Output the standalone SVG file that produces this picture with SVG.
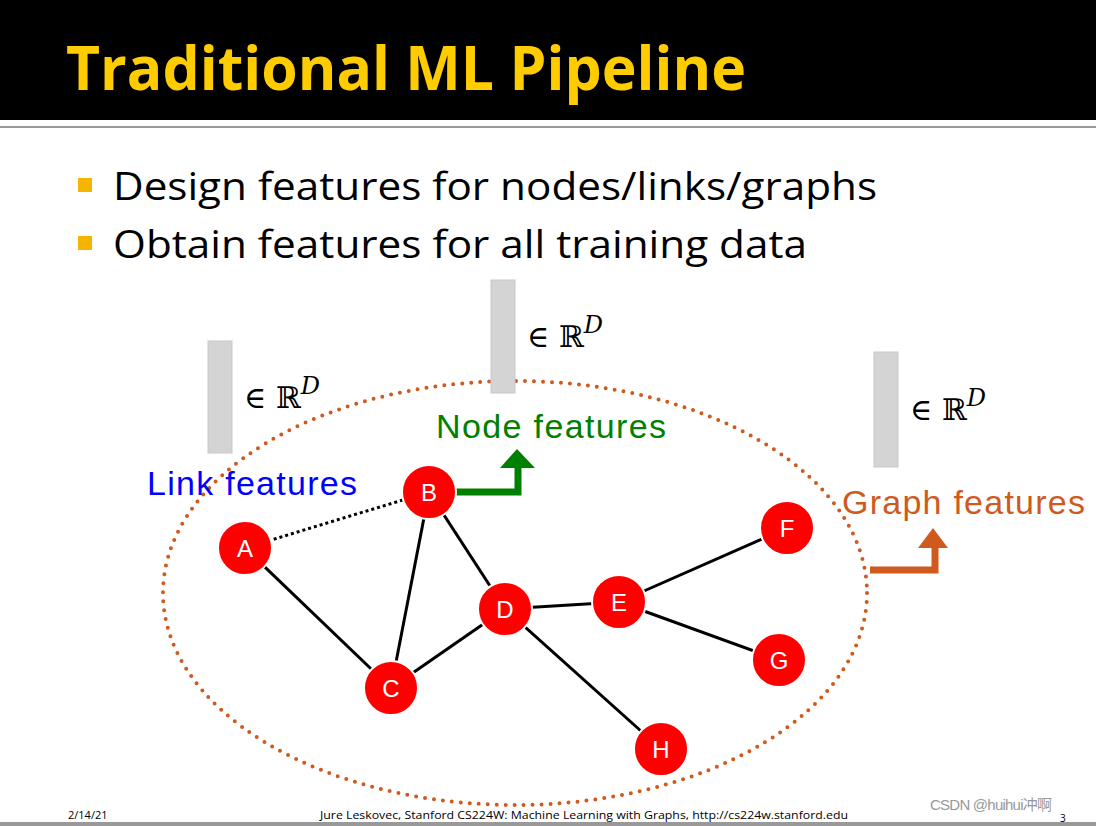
<svg xmlns="http://www.w3.org/2000/svg" width="1096" height="826" viewBox="0 0 1096 826">
<style>
.n circle{fill:#f00;stroke:#fff;stroke-width:2}
.n text{fill:#fff;font:24px "Liberation Sans",sans-serif;text-anchor:middle}
.e line{stroke:#000;stroke-width:3}
.bar{fill:#d4d4d4;stroke:#c8c8c8}
.rd{font:30px "DejaVu Serif",serif;fill:#000}
.b{font:38px "Open Sans","DejaVu Sans",sans-serif;fill:#000}
.lab{font:34px "Liberation Sans",sans-serif}
</style>
<rect width="1096" height="826" fill="#fff"/>
<rect width="1096" height="120" fill="#000"/>
<rect x="0" y="126" width="1096" height="2" fill="#999"/>
<text x="66" y="90" font-family="Open Sans,DejaVu Sans Condensed,sans-serif" font-size="60" font-weight="bold" fill="#ffcc00" textLength="680" lengthAdjust="spacingAndGlyphs">Traditional ML Pipeline</text>
<rect x="78" y="178" width="14" height="14" fill="#f5b400"/>
<rect x="78" y="236" width="14" height="14" fill="#f5b400"/>
<text class="b" x="113" y="200" textLength="764" lengthAdjust="spacingAndGlyphs">Design features for nodes/links/graphs</text>
<text class="b" x="113" y="258" textLength="694" lengthAdjust="spacingAndGlyphs">Obtain features for all training data</text>
<ellipse cx="515" cy="593" rx="352" ry="212" fill="none" stroke="#d05a1e" stroke-width="4" stroke-dasharray="0 9" stroke-linecap="round"/>
<rect class="bar" x="208" y="341" width="24" height="112"/>
<rect class="bar" x="491" y="280" width="24" height="113"/>
<rect class="bar" x="874" y="352" width="24" height="115"/>
<text class="rd" x="244" y="408">∈ ℝ<tspan font-style="italic" font-size="24" dy="-14">D</tspan></text>
<text class="rd" x="527" y="347">∈ ℝ<tspan font-style="italic" font-size="24" dy="-14">D</tspan></text>
<text class="rd" x="910" y="420">∈ ℝ<tspan font-style="italic" font-size="24" dy="-14">D</tspan></text>
<text class="lab" x="147" y="495" fill="#0000ff" textLength="210">Link features</text>
<text class="lab" x="436" y="438" fill="#008000" textLength="230">Node features</text>
<text class="lab" x="842" y="514" fill="#d05a1e" textLength="243">Graph features</text>
<g id="connectors">
<g class="e">
<line x1="245" y1="548" x2="391" y2="688"/>
<line x1="429" y1="492" x2="391" y2="688"/>
<line x1="429" y1="492" x2="505" y2="609"/>
<line x1="391" y1="688" x2="505" y2="609"/>
<line x1="505" y1="609" x2="619" y2="602"/>
<line x1="505" y1="609" x2="661" y2="749"/>
<line x1="619" y1="602" x2="787" y2="528"/>
<line x1="619" y1="602" x2="779" y2="660"/>
</g>
<line x1="245" y1="548" x2="429" y2="492" stroke="#000" stroke-width="3" stroke-dasharray="3 3"/>
<polyline points="455,492 518,492 518,464" fill="none" stroke="#008000" stroke-width="7"/>
<polygon points="500,468 535,468 517,449" fill="#008000"/>
<polyline points="870,570 935,570 935,545" fill="none" stroke="#d05a1e" stroke-width="7"/>
<polygon points="918,548 948,548 933,528" fill="#d05a1e"/>
</g>
<g id="A" class="n"><circle cx="245" cy="548" r="27"/><text x="245" y="557">A</text></g>
<g id="B" class="n"><circle cx="429" cy="492" r="27"/><text x="429" y="501">B</text></g>
<g id="C" class="n"><circle cx="391" cy="688" r="27"/><text x="391" y="697">C</text></g>
<g id="D" class="n"><circle cx="505" cy="609" r="27"/><text x="505" y="618">D</text></g>
<g id="E" class="n"><circle cx="619" cy="602" r="27"/><text x="619" y="611">E</text></g>
<g id="F" class="n"><circle cx="787" cy="528" r="27"/><text x="787" y="537">F</text></g>
<g id="G" class="n"><circle cx="779" cy="660" r="27"/><text x="779" y="669">G</text></g>
<g id="H" class="n"><circle cx="661" cy="749" r="27"/><text x="661" y="758">H</text></g>
<text x="68" y="819" font-family="Open Sans,sans-serif" font-size="11" fill="#000">2/14/21</text>
<text x="320" y="819" font-family="Open Sans,sans-serif" font-size="11" fill="#000" textLength="528" lengthAdjust="spacingAndGlyphs">Jure Leskovec, Stanford CS224W: Machine Learning with Graphs, http://cs224w.stanford.edu</text>
<text x="1060" y="822" font-family="Open Sans,sans-serif" font-size="10" fill="#000">3</text>
<text x="930" y="810" font-family="Liberation Sans,Noto Sans CJK SC,sans-serif" font-size="15" fill="#999" textLength="122">CSDN @huihui冲啊</text>
<rect x="0" y="822" width="1096" height="4" fill="#999"/>
</svg>
